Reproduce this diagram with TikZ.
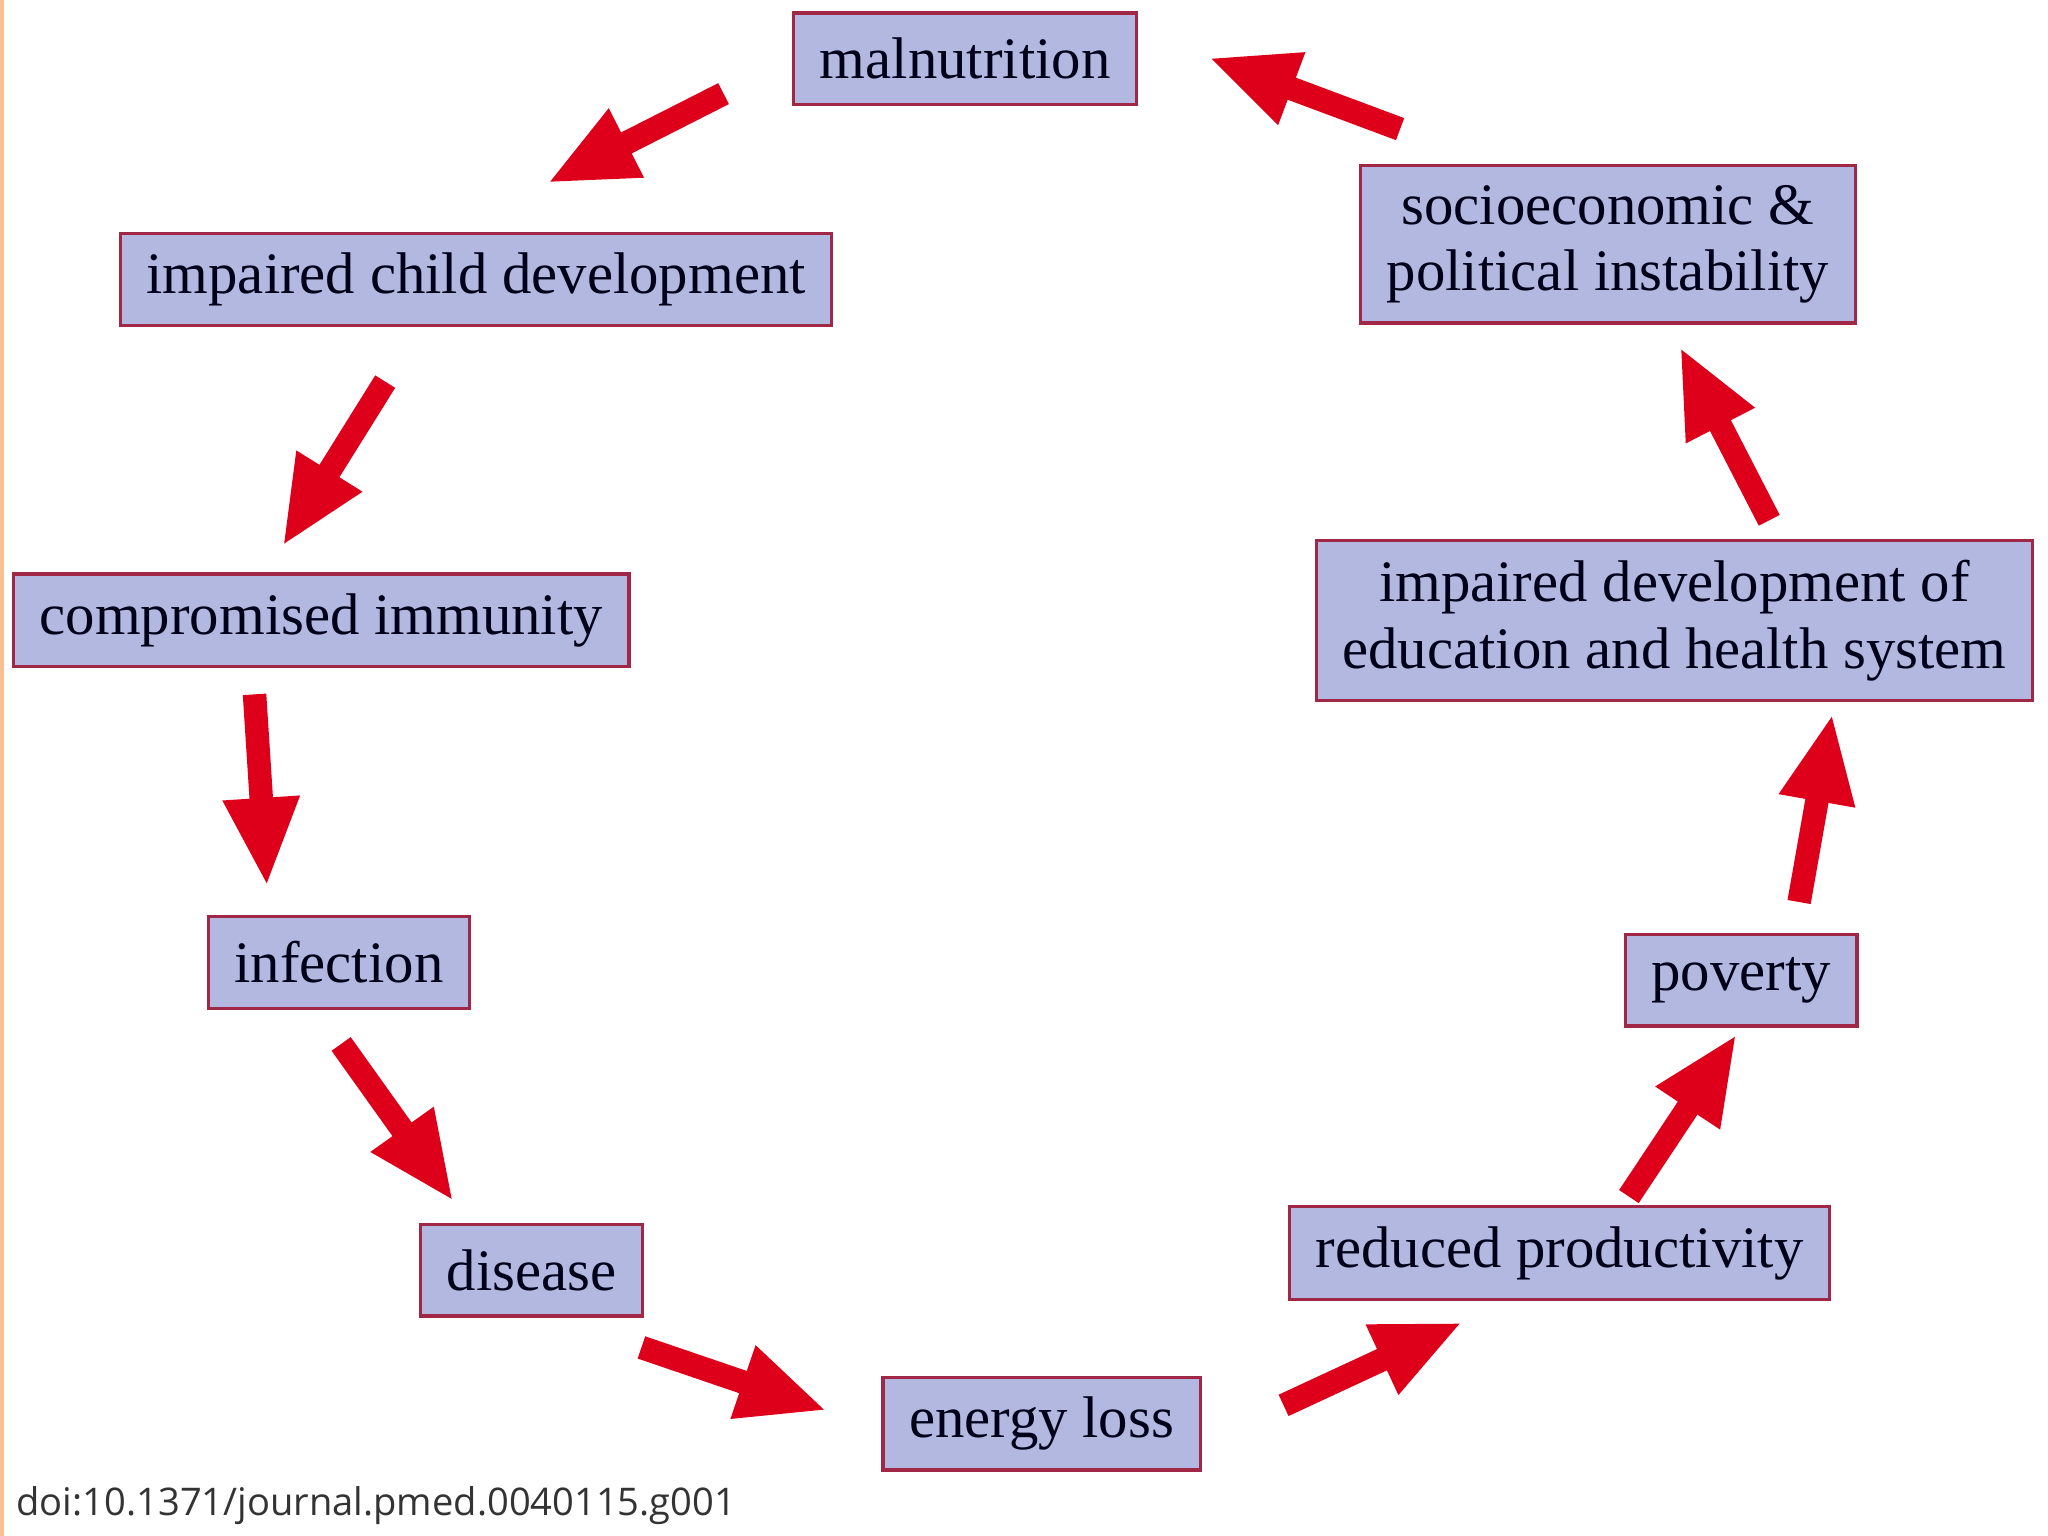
\documentclass[tikz,border=0pt]{standalone}
\usepackage{fontspec}
\setmainfont{Liberation Serif}
\newfontfamily\doifont{Open Sans}
\usetikzlibrary{arrows.meta}
\definecolor{boxfill}{RGB}{178,184,224}
\definecolor{boxline}{RGB}{160,40,70}
\definecolor{arrowred}{RGB}{222,0,26}
\definecolor{edgeorange}{RGB}{248,192,145}
\tikzset{
  stage/.style={draw=boxline, line width=0.7pt, fill=boxfill, align=center,
    inner xsep=0.2cm, inner ysep=0.15cm, minimum height=0.7cm,
    font=\fontsize{12.8}{14.5}\selectfont, text=black!90!blue},
  redarrow/.style={arrowred, line width=0.18cm,
    -{Triangle[length=0.68cm,width=0.54cm]}}
}
\begin{document}
\begin{tikzpicture}
  \useasboundingbox (0,0) rectangle (15.68,11.76);
  \fill[white] (0,0) rectangle (15.68,11.76);
  \fill[edgeorange] (0,0) rectangle (0.03,11.76);

  % Stages of the cycle
  \node[stage] (maln)    at (7.39,11.31)  {malnutrition};
  \node[stage] (child)   at (3.645,9.62)  {impaired child development};
  \node[stage] (immun)   at (2.46,7.01)   {compromised immunity};
  \node[stage] (infect)  at (2.595,4.39)  {infection};
  \node[stage] (disease) at (4.07,2.035)  {disease};
  \node[stage] (energy)  at (7.975,0.86)  {energy loss};
  \node[stage] (prod)    at (11.94,2.165) {reduced productivity};
  \node[stage] (poverty) at (13.33,4.255) {poverty};
  \node[stage] (edu)     at (12.82,7.01)  {impaired development of\\education and health system};
  \node[stage] (socio)   at (12.31,9.89)  {socioeconomic \&\\political instability};

  % Arrows (red)
  \draw[redarrow, shorten <=0.59cm, shorten >=0.82cm]  (maln.west) -- (child.117);
  \draw[redarrow, shorten <=0.49cm, shorten >=0.235cm] (child.220) -- (immun.139);
  \draw[redarrow, shorten <=0.20cm, shorten >=0.22cm]  (immun.215) -- (infect.146);
  \draw[redarrow, shorten <=0.32cm, shorten >=0.20cm]  (infect.245) -- (disease.143);
  \draw[redarrow, shorten <=0.71cm, shorten >=0.44cm]  (disease.295) -- (energy.182);
  \draw[redarrow, shorten <=0.69cm, shorten >=0.385cm] (energy.353) -- (prod.223);
  \draw[redarrow, shorten <=0.08cm, shorten >=0.06cm]  (prod.37) -- (poverty.south);
  \draw[redarrow, shorten <=0.24cm, shorten >=0.09cm]  (poverty.42) -- (edu.333);
  \draw[redarrow, shorten <=0.16cm, shorten >=0.19cm]  (edu.38) -- (socio.307);
  \draw[redarrow, shorten <=0.76cm, shorten >=0.575cm] (socio.145) -- (maln.9);

  % Reference
  \node[anchor=west, inner sep=0pt, text=black!80, font=\doifont\fontsize{8.3}{10}\selectfont]
    (doi) at (0.12,0.23) {doi:10.1371/journal.pmed.0040115.g001};
\end{tikzpicture}
\end{document}
